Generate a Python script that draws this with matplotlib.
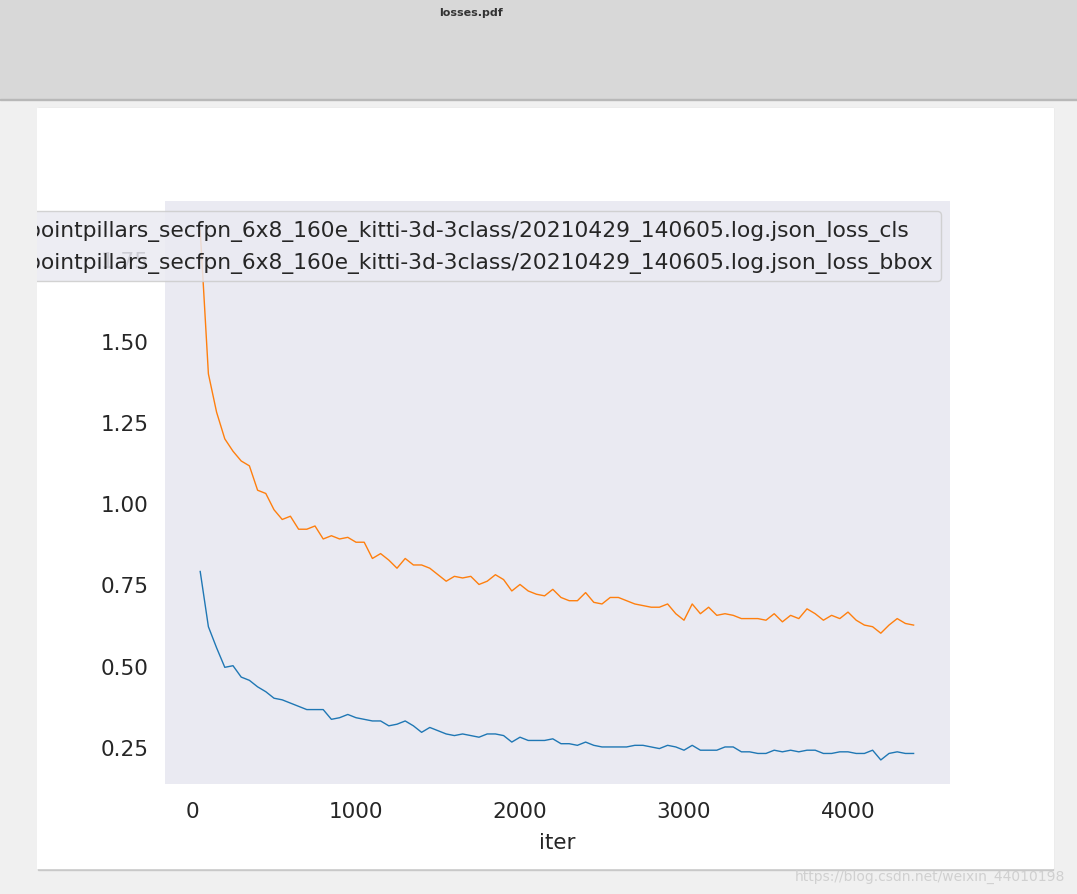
import numpy as np
import matplotlib
matplotlib.use("Agg")
import matplotlib.pyplot as plt
from matplotlib.patches import Rectangle

loss_bbox = [1.84, 1.398, 1.28, 1.198, 1.16, 1.13, 1.115, 1.04, 1.03, 0.98, 0.95, 0.96, 0.92, 0.92, 0.93,
             0.89, 0.90, 0.89, 0.895, 0.88, 0.88, 0.83, 0.845, 0.825, 0.80, 0.83, 0.81, 0.81, 0.80, 0.78,
             0.76, 0.775, 0.77, 0.775, 0.75, 0.76, 0.78, 0.765, 0.73, 0.75, 0.73, 0.72, 0.715, 0.735, 0.71,
             0.70, 0.70, 0.725, 0.695, 0.69, 0.71, 0.71, 0.70, 0.69, 0.685, 0.68, 0.68, 0.69, 0.66, 0.64,
             0.69, 0.66, 0.68, 0.655, 0.66, 0.655, 0.645, 0.645, 0.645, 0.64, 0.66, 0.635, 0.655, 0.645,
             0.675, 0.66, 0.64, 0.655, 0.645, 0.665, 0.64, 0.625, 0.62, 0.60, 0.625, 0.645, 0.63, 0.625]
loss_cls = [0.79, 0.62, 0.555, 0.495, 0.50, 0.465, 0.455, 0.435, 0.42, 0.40, 0.395, 0.385, 0.375, 0.365, 0.365,
            0.365, 0.335, 0.34, 0.35, 0.34, 0.335, 0.33, 0.33, 0.315, 0.32, 0.33, 0.315, 0.295, 0.31, 0.30,
            0.29, 0.285, 0.29, 0.285, 0.28, 0.29, 0.29, 0.285, 0.265, 0.28, 0.27, 0.27, 0.27, 0.275, 0.26,
            0.26, 0.255, 0.265, 0.255, 0.25, 0.25, 0.25, 0.25, 0.255, 0.255, 0.25, 0.245, 0.255, 0.25, 0.24,
            0.255, 0.24, 0.24, 0.24, 0.25, 0.25, 0.235, 0.235, 0.23, 0.23, 0.24, 0.235, 0.24, 0.235,
            0.24, 0.24, 0.23, 0.23, 0.235, 0.235, 0.23, 0.23, 0.24, 0.21, 0.23, 0.235, 0.23, 0.23]
iters = np.arange(50, 50 * (len(loss_cls) + 1), 50)
labels = ["pointpillars_secfpn_6x8_160e_kitti-3d-3class/20210429_140605.log.json_loss_cls",
          "pointpillars_secfpn_6x8_160e_kitti-3d-3class/20210429_140605.log.json_loss_bbox"]
xticks = [0, 1000, 2000, 3000, 4000]
yticks = [0.25, 0.50, 0.75, 1.00, 1.25, 1.50, 1.75]

W, H = 1077, 895
fig = plt.figure(figsize=(W / 100, H / 100), dpi=100)
fig.patch.set_facecolor("#f0f0f0")
fig.patches.append(Rectangle((0, 1 - 100 / H), 1, 100 / H, transform=fig.transFigure, color="#d8d8d8", zorder=-5))
fig.patches.append(Rectangle((0, 1 - 101 / H), 1, 1 / H, transform=fig.transFigure, color="#b8b8b8", zorder=-5))
fig.patches.append(Rectangle((38 / W, 1 - 871 / H), 1015 / W, 762 / H, transform=fig.transFigure,
                             color="#c8c8c8", zorder=-5))
fig.patches.append(Rectangle((37 / W, 1 - 869 / H), 1016 / W, 760 / H, transform=fig.transFigure,
                             color="white", zorder=-4))
fig.text(471 / W, 1 - 13 / H, "losses.pdf", ha="center", va="center", fontsize=8, fontweight="bold",
         color="#333333")

ax = fig.add_axes([165 / W, 1 - 785 / H, 785 / W, 583 / H], zorder=1)
ax.set_facecolor("#eaeaf2")
for s in ax.spines.values():
    s.set_visible(False)
ax.plot(iters, loss_cls, color="#1f77b4", lw=1, label=labels[0])
ax.plot(iters, loss_bbox, color="#ff7f0e", lw=1, label=labels[1])
ax.set_xticks(xticks)
ax.set_yticks(yticks)
ax.tick_params(length=0, labelsize=15.5, colors="#262626", pad=12)
ax.tick_params(axis="y", pad=12)
ax.set_xlabel("iter", fontsize=15.5, color="#262626", labelpad=8)
ax.set_ylim(0.136, 1.93)
ax.set_xlim(-192 / 0.164 + 165 / 0.164, (950 - 192) / 0.164)
leg = ax.legend(loc="upper right", bbox_to_anchor=(941 / W, 1 - 212 / H), bbox_transform=fig.transFigure,
                fontsize=15.7, frameon=True, facecolor="#eaeaf2", edgecolor="#cccccc", framealpha=0.85,
                borderpad=0.4, labelspacing=0.5, handlelength=2.0, borderaxespad=0)
for t in leg.get_texts():
    t.set_color("#262626")

cover = fig.add_axes([0, 1 - 869 / H, 37 / W, 760 / H], zorder=10)
cover.set_facecolor("#f0f0f0")
cover.set_xticks([]); cover.set_yticks([])
for s in cover.spines.values():
    s.set_visible(False)

fig.text(1065 / W, 1 - 877 / H, "https://blog.csdn.net/weixin_44010198", ha="right", va="center",
         fontsize=10, color="#d0d0d0")
fig.savefig("out.png", dpi=100, facecolor=fig.get_facecolor())
